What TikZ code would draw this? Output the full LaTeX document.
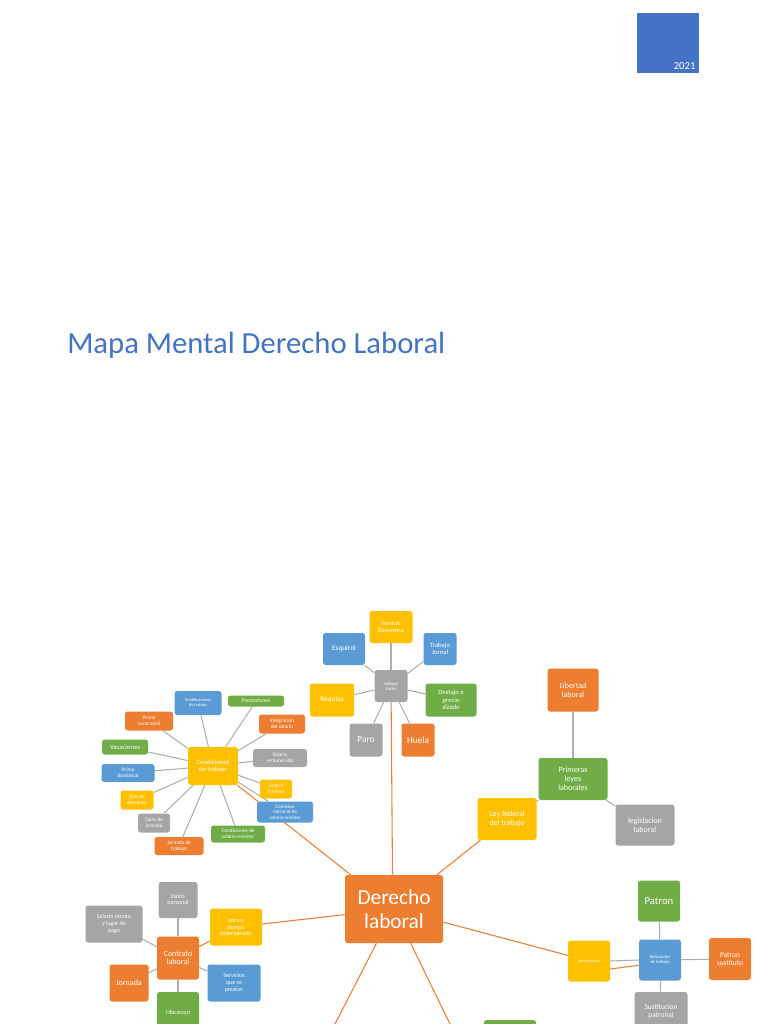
\documentclass[tikz,border=0pt]{standalone}
\usepackage{fontspec}
\setmainfont{Carlito}
\usetikzlibrary{backgrounds}
\definecolor{cor}{RGB}{237,125,49}
\definecolor{cye}{RGB}{255,192,0}
\definecolor{cgr}{RGB}{112,173,71}
\definecolor{cbl}{RGB}{91,155,213}
\definecolor{cgy}{RGB}{165,165,165}
\definecolor{ctitle}{RGB}{68,114,196}
\tikzset{box/.style={rounded corners=2pt,fill=#1,text=white,align=center,inner sep=0.5pt},
 gl/.style={draw=cgy!90,line width=0.8pt},
 ol/.style={draw=cor,line width=0.8pt}}
\newcommand\bx[8]{\node[box=#2,minimum width=#5*0.75pt,minimum height=#6*0.75pt,font=\fontsize{#7}{\dimexpr#7pt*11/10\relax}\selectfont] (#1) at (#3,#4) {#8};}
\begin{document}
\begin{tikzpicture}[x=0.75pt,y=-0.75pt]
\useasboundingbox (0,0) rectangle (768,1024);
\fill[ctitle] (637,13) rectangle (699,73);
\node[anchor=south east,text=white,font=\fontsize{8}{9}\selectfont,inner sep=1pt] (yr) at (697,71) {2021};
\node[anchor=base west,text=ctitle,font=\fontsize{23}{26}\selectfont,inner sep=0pt] (title) at (67,353) {Mapa Mental Derecho Laboral};
% center
\bx{der}{cor}{394}{909}{98}{68}{16}{Derecho\\laboral}
% codigos group
\bx{cod}{cgy}{391}{686}{33}{32}{3.5}{codigos\\civiles}
\bx{ser}{cye}{391}{627}{43}{32}{4.5}{Servicio\\Domestico}
\bx{esq}{cbl}{344}{649}{42}{32}{5.5}{Esquirol}
\bx{tra}{cbl}{440}{649}{33}{32}{5}{Trabajo\\Jornal}
\bx{req}{cye}{332}{700}{44}{33}{5.5}{Requisa}
\bx{des}{cgr}{451}{700}{51}{33}{5}{Destajo a\\precio\\alzado}
\bx{par}{cgy}{366}{740}{33}{33}{7}{Paro}
\bx{hue}{cor}{418}{740}{33}{33}{7}{Huela}
% condiciones group
\bx{con}{cye}{213}{766}{50}{38}{5}{Condiciones\\de trabajo}
\bx{mod}{cbl}{198}{703}{47}{24}{3.2}{Modificaciones\\de trabajo}
\bx{pre}{cgr}{256}{701}{56}{11}{4.2}{Prestaciones}
\bx{pva}{cor}{149}{721}{48}{19}{4}{Prima\\vacacional}
\bx{int}{cor}{282}{724}{46}{19}{4}{Integracion\\del salario}
\bx{vac}{cgr}{125}{747}{46}{15}{5}{Vacaciones}
\bx{sre}{cgy}{280}{758}{54}{18}{4}{Salario\\remunerado}
\bx{pdo}{cbl}{128}{773}{53}{18}{4}{Prima\\dominical}
\bx{smi}{cye}{276}{789}{32}{19}{4}{Salario\\minimo}
\bx{dia}{cye}{137}{800}{33}{19}{4}{Dias de\\descanso}
\bx{com}{cbl}{285}{812}{56}{21}{3.8}{Comision\\nacional de\\salario minimo}
\bx{tip}{cgy}{154}{823}{32}{19}{4}{Tipos de\\jornada}
\bx{csm}{cgr}{238}{834}{54}{17}{4}{Condiciones de\\salario minimo}
\bx{jtr}{cor}{179}{846}{49}{18}{4}{Jornada de\\trabajo}
% right upper
\bx{ley}{cye}{507}{819}{59}{42}{6}{Ley federal\\del trabajo}
\bx{pri}{cgr}{573}{779}{69}{42}{6}{Primeras\\leyes\\laborales}
\bx{lib}{cor}{573}{690}{51}{43}{6}{Libertad\\laboral}
\bx{leg}{cgy}{645}{825}{59}{41}{6}{legislacion\\laboral}
% left lower
\bx{cla}{cor}{178}{958}{42}{43}{6}{Contrato\\laboral}
\bx{dat}{cgy}{178}{900}{39}{36}{4.5}{Datos\\personal}
\bx{sal}{cgy}{114}{924}{57}{37}{4.5}{Salario monto\\y lugar de\\pago}
\bx{obr}{cye}{236}{927}{52}{37}{4.5}{obra o\\tiempo\\determinado}
\bx{jor}{cor}{129}{983}{39}{37}{6}{Jornada}
\bx{svp}{cbl}{234}{983}{53}{37}{4.5}{Servicios\\que se\\prestan}
\bx{ubi}{cgr}{178}{1012}{42}{40}{4.5}{Ubicacion}
% right lower
\bx{itm}{cye}{589}{961}{42}{41}{3}{Intermediario}
\bx{rel}{cbl}{660}{960}{42}{41}{3.5}{Relaciones\\de trabajo}
\bx{pat}{cgr}{659}{901}{42}{41}{8}{Patron}
\bx{pst}{cor}{730}{959}{42}{42}{5.5}{Patron\\sustituto}
\bx{sus}{cgy}{661}{1012}{53}{40}{5.5}{Sustitucion\\patronal}
\bx{gbt}{cgr}{510}{1040}{52}{40}{5}{}
\coordinate (b1) at (335,1024);
\coordinate (b2) at (450,1024);
\begin{scope}[on background layer]
\foreach \n in {ser,esq,tra,req,des,par,hue} \draw[gl] (cod) -- (\n);
\foreach \n in {mod,pre,pva,int,vac,sre,pdo,smi,dia,com,tip,csm,jtr} \draw[gl] (con) -- (\n);
\foreach \n in {lib,leg} \draw[gl] (pri) -- (\n);
\draw[ol] (pri) -- (ley);
\foreach \n in {dat,sal,jor,svp,ubi} \draw[gl] (cla) -- (\n);
\draw[ol] (cla) -- (obr);
\foreach \n in {pat,pst,sus} \draw[gl] (rel) -- (\n);
\draw[gl] (itm.east) -- (rel.west);
\draw[ol] ([yshift=-6pt]itm.east) -- ([yshift=-4pt]rel.west);
\draw[ol] (der.north) ++(-1.5,0) -- (cod);
\draw[ol] (der) -- (con);
\draw[ol] (der) -- (ley);
\draw[ol] (der) -- (obr);
\draw[ol] (der) -- (itm);
\draw[ol] (der) -- (b1);
\draw[ol] (der) -- (b2);
\end{scope}
\end{tikzpicture}
\end{document}
